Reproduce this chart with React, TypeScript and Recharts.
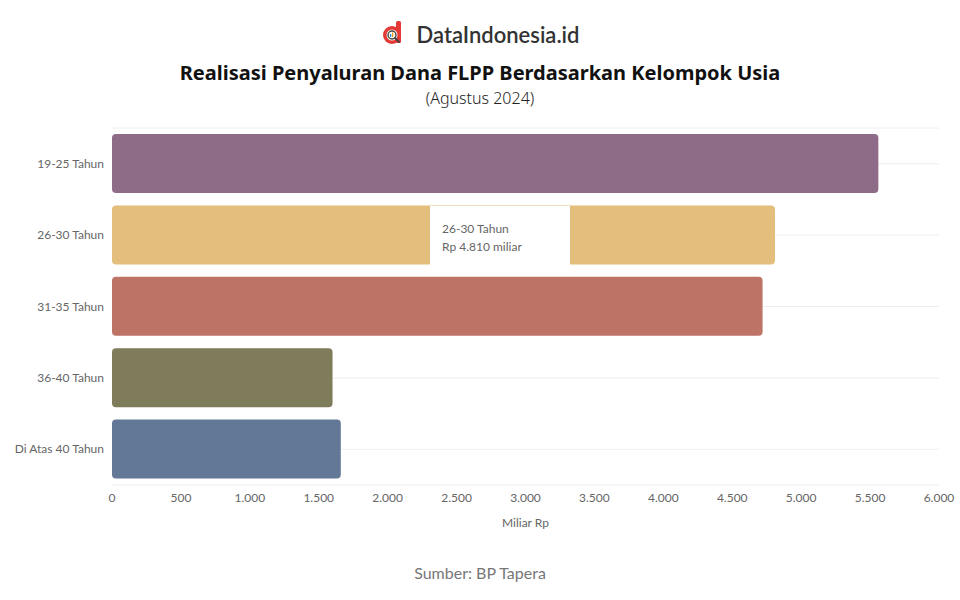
import { BarChart, Bar, XAxis, YAxis, CartesianGrid, Tooltip, Cell } from "recharts";

const categories = ["19-25 Tahun", "26-30 Tahun", "31-35 Tahun", "36-40 Tahun", "Di Atas 40 Tahun"];
const values = [5560, 4810, 4720, 1600, 1660];
const barColors = ["#8e6c87", "#e3be7c", "#bd7467", "#7f7c5b", "#637896"];
const xTicks = [0, 500, 1000, 1500, 2000, 2500, 3000, 3500, 4000, 4500, 5000, 5500, 6000];

const data = categories.map((kelompok, i) => ({ kelompok, nilai: values[i] }));

const fmt = (v: number) => String(v).replace(/\B(?=(\d{3})+(?!\d))/g, ".");

const font = "Lato, 'Noto Sans', sans-serif";
const headFont = "'Noto Sans', sans-serif";

function Logo() {
  return (
    <svg width={26} height={28} viewBox="0 0 26 28">
      <rect x={15} y={1} width={5} height={22} rx={1.5} fill="#e53935" />
      <circle cx={11} cy={15} r={9} fill="#e53935" />
      <circle cx={11} cy={15} r={5.5} fill="#fff" />
      <circle cx={11} cy={15} r={4} fill="none" stroke="#444" strokeWidth={1.4} />
      <rect x={9} y={14} width={1.3} height={3} fill="#2e86de" />
      <rect x={11} y={12.5} width={1.3} height={4.5} fill="#f39c12" />
      <line x1={14} y1={18} x2={18} y2={22} stroke="#444" strokeWidth={2} strokeLinecap="round" />
    </svg>
  );
}

// category label kept on one line
function CatTick({ x, y, payload }: any) {
  return (
    <text x={x} y={y} dy={4} textAnchor="end" fontSize={12} fill="#666" fontFamily={font}>
      {payload.value}
    </text>
  );
}

function TipBox({ active, payload }: any) {
  if (!active || !payload || !payload.length) return null;
  const p = payload[0].payload;
  return (
    <div
      style={{
        background: "#fff",
        padding: "14px 12px",
        width: 116,
        fontFamily: font,
        fontSize: 12,
        color: "#666",
        lineHeight: "18px",
      }}
    >
      <div>{p.kelompok}</div>
      <div>Rp {fmt(p.nilai)} miliar</div>
    </div>
  );
}

export default function App() {
  return (
    <div style={{ position: "absolute", left: 0, top: 0, width: 960, height: 600, background: "#fff", fontFamily: font }}>
      <div style={{ position: "absolute", top: 20, left: 0, width: 960, display: "flex", justifyContent: "center", alignItems: "center", gap: 10 }}>
        <Logo />
        <span style={{ fontSize: 22, fontWeight: 600, color: "#333" }}>DataIndonesia.id</span>
      </div>
      <div style={{ position: "absolute", top: 59, left: 0, width: 960, textAlign: "center", fontSize: 20, fontWeight: 700, color: "#111", fontFamily: headFont }}>
        Realisasi Penyaluran Dana FLPP Berdasarkan Kelompok Usia
      </div>
      <div style={{ position: "absolute", top: 87, left: 0, width: 960, textAlign: "center", fontSize: 16, fontWeight: 300, color: "#222", fontFamily: headFont }}>
        (Agustus 2024)
      </div>

      <div style={{ position: "absolute", top: 115, left: 0 }}>
        <BarChart
          width={960}
          height={430}
          data={data}
          layout="vertical"
          margin={{ top: 13, right: 21, bottom: 0, left: 8 }}
          barCategoryGap={6}
        >
          <CartesianGrid horizontal={true} vertical={false} stroke="#eeeeee" />
          <XAxis
            type="number"
            domain={[0, 6000]}
            ticks={xTicks}
            tickFormatter={fmt}
            axisLine={false}
            tickLine={false}
            tick={{ fontSize: 12, fill: "#666", fontFamily: font }}
            height={60}
            label={{ value: "Miliar Rp", position: "insideBottom", offset: 18, fontSize: 12, fill: "#666", fontFamily: font }}
          />
          <YAxis
            type="category"
            dataKey="kelompok"
            width={104}
            axisLine={false}
            tickLine={false}
            tick={<CatTick />}
          />
          <Tooltip
            content={<TipBox />}
            active={true}
            defaultIndex={1}
            position={{ x: 430, y: 206 - 115 }}
            cursor={false}
            isAnimationActive={false}
          />
          <Bar dataKey="nilai" radius={4} isAnimationActive={false}>
            {data.map((d, i) => (
              <Cell key={d.kelompok} fill={barColors[i]} />
            ))}
          </Bar>
        </BarChart>
      </div>

      <div style={{ position: "absolute", top: 563, left: 0, width: 960, textAlign: "center", fontSize: 16, color: "#777" }}>
        Sumber: BP Tapera
      </div>
    </div>
  );
}
